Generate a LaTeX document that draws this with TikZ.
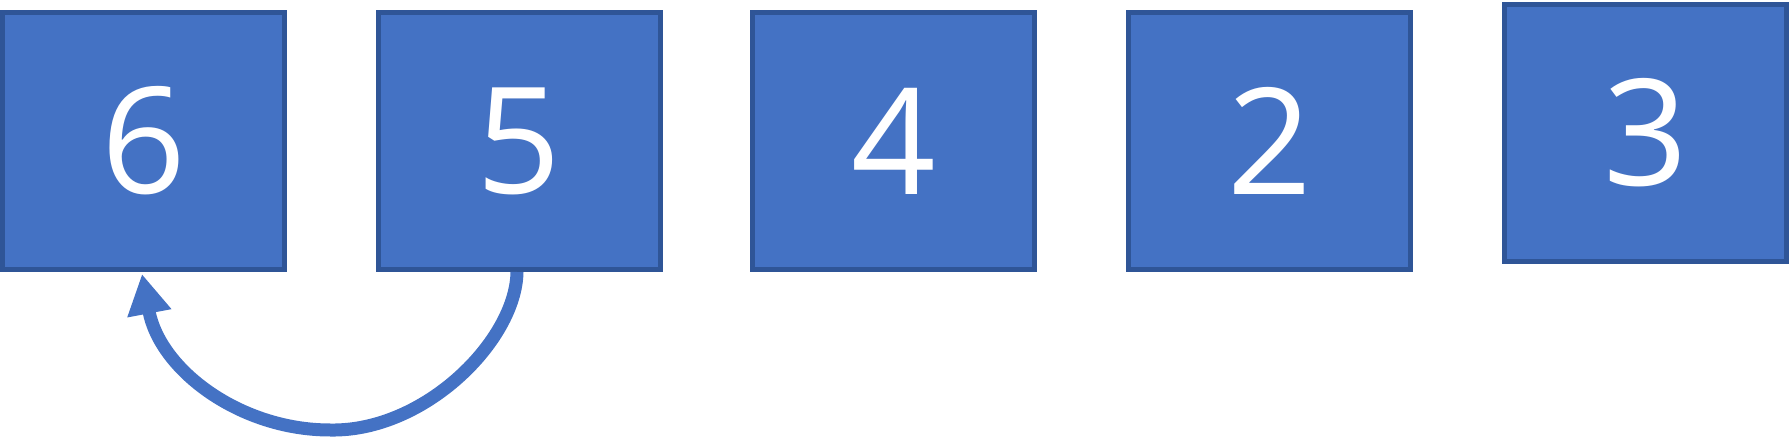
\documentclass[tikz,border=0pt]{standalone}
\usepackage{fontspec}
\setmainfont{Open Sans}
\usetikzlibrary{arrows.meta}
\definecolor{boxfill}{HTML}{4472C4}
\definecolor{boxline}{HTML}{2F5597}
\begin{document}
\begin{tikzpicture}[x=0.5pt,y=-0.5pt,
  card/.style={rectangle, draw=boxline, fill=boxfill, line width=2.5pt,
    minimum width=141pt, minimum height=128.5pt, inner sep=0pt,
    text=white, font=\fontsize{74}{74}\selectfont},
  swap/.style={draw=boxfill, line width=6.5pt,
    -{Triangle[length=20pt,width=21pt]}}]
\useasboundingbox (0,0) rectangle (1790,438);
\node[card] (b1) at (143.5,141) {6};
\node[card] (b2) at (519,141) {5};
\node[card] (b3) at (893.5,141) {4};
\node[card] (b4) at (1269.5,141) {2};
\node[card] (b5) at (1645.5,133) {3};
\coordinate (tip) at (142,274);
\draw[swap] ([xshift=-1pt]b2.south) .. controls (516,340) and (425,432) .. (330,430)
  .. controls (240,430) and (160,370) .. (tip);
\end{tikzpicture}
\end{document}
